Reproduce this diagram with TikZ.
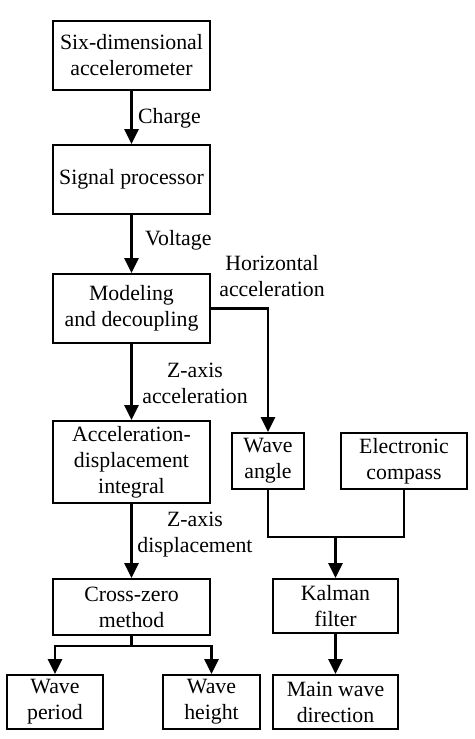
\documentclass[tikz,border=0pt]{standalone}
\usepackage{fontspec}
\setmainfont{Liberation Serif}
\newfontfamily\blkfont{Liberation Serif}
\usetikzlibrary{arrows.meta}
\begin{document}
\begin{tikzpicture}[x=1pt,y=-1pt,
  blk/.style={draw, line width=1.8pt, align=center, inner sep=0pt,
    font=\blkfont\fontsize{21.8}{26}\selectfont},
  lbl/.style={align=center, inner sep=0pt, font=\blkfont\fontsize{21.8}{26}\selectfont},
  arr/.style={line width=2.3pt, -{Triangle[length=15pt,width=14pt]}},
  ln/.style={line width=2.3pt}]
\useasboundingbox (0,0) rectangle (474,739);
\node[blk, minimum width=157pt, minimum height=69pt] (acc) at (131.5,55.5){Six-dimensional\\accelerometer};
\node[blk, minimum width=157pt, minimum height=69pt] (sig) at (131.5,179.5){Signal processor};
\node[blk, minimum width=157pt, minimum height=69pt] (mod) at (131.5,308.5){Modeling\\and decoupling};
\node[blk, minimum width=157pt, minimum height=82pt] (integ) at (131.5,462){Acceleration-\\displacement\\integral};
\node[blk, minimum width=157pt, minimum height=56pt] (cross) at (131.5,607){Cross-zero\\method};
\node[blk, minimum width=96pt, minimum height=54pt] (period) at (55,702){Wave\\period};
\node[blk, minimum width=97pt, minimum height=54pt] (height) at (211.5,702){Wave\\height};
\node[blk, minimum width=72pt, minimum height=56pt] (angle) at (268,461){Wave\\angle};
\node[blk, minimum width=126pt, minimum height=56pt] (comp) at (404,461){Electronic\\compass};
\node[blk, minimum width=125pt, minimum height=54pt] (kal) at (335.5,606){Kalman\\filter};
\node[blk, minimum width=125pt, minimum height=54pt] (dir) at (335.5,702){Main wave\\direction};
% signal labels
\node[lbl, anchor=west] (lcharge) at (138,118){Charge};
\node[lbl, anchor=west] (lvolt) at (145,240){Voltage};
\node[lbl] (lhor) at (272,276){Horizontal\\acceleration};
\node[lbl] (lzacc) at (195,383){Z-axis\\acceleration};
\node[lbl] (lzdis) at (195,535){Z-axis\\displacement};
\coordinate (split) at (131.5,646);
\coordinate (join) at (335.5,537);
\draw[arr](acc) -- (sig);
\draw[arr](sig) -- (mod);
\draw[arr](mod) -- (integ);
\draw[arr](integ) -- (cross);
\draw[arr](mod.east) -| (angle.north);
\draw[ln](cross) -- (split);
\draw[arr](split) -| (period.north);
\draw[arr](split) -| (height.north);
\draw[ln](angle) |- (join);
\draw[ln](comp) |- (join);
\draw[arr](join) -- (kal);
\draw[arr](kal) -- (dir);
\end{tikzpicture}
\end{document}
